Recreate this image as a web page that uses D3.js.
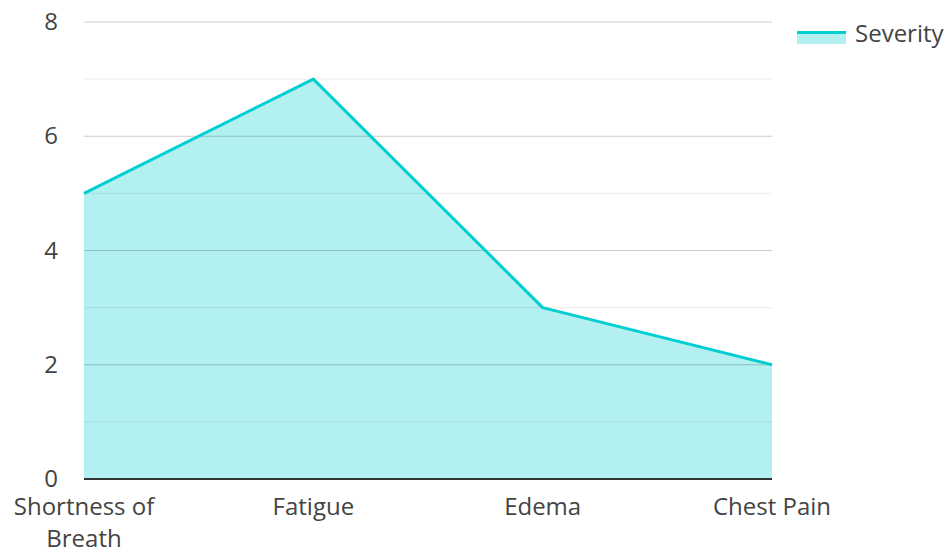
<!DOCTYPE html>
<html>
<head>
<meta charset="utf-8">
<script src="https://cdn.jsdelivr.net/npm/d3@7"></script>
<style>
body { margin: 0; background: #fff; }
text { font-family: "Open Sans", "Noto Sans", sans-serif; fill: #444; }
</style>
</head>
<body>
<div id="chart"></div>
<script>
// symptom severity data
var symptoms = ["Shortness of Breath", "Fatigue", "Edema", "Chest Pain"];
var severity = [5, 7, 3, 2];
var yTicks = [0, 2, 4, 6, 8];
var seriesName = "Severity";

var W = 948, H = 549;
var margin = {left: 84, right: 176, top: 22, bottom: 70};
var color = "#00CED1";
var fs = "24px";

var svg = d3.select("#chart").append("svg")
	.attr("width", W)
	.attr("height", H);

var x = d3.scalePoint()
	.domain(symptoms)
	.range([margin.left, W - margin.right]);
var y = d3.scaleLinear()
	.domain([0, 8])
	.range([H - margin.bottom, margin.top]);

var data = symptoms.map((s, i) => ({name: s, v: severity[i]}));

svg.append("path")
	.datum(data)
	.attr("fill", color).attr("fill-opacity", 0.3)
	.attr("d", d3.area().x(d => x(d.name)).y0(y(0)).y1(d => y(d.v)));

//grid lines on top of the fill, minor first
var minor = d3.range(1, 8, 2);
svg.selectAll("line.minor").data(minor).enter().append("line")
	.attr("x1", margin.left).attr("x2", W - margin.right)
	.attr("y1", d => y(d)).attr("y2", d => y(d))
	.attr("stroke", "#000").attr("stroke-opacity", 0.08).attr("stroke-width", 1);
svg.selectAll("line.major").data(yTicks.filter(d => d > 0)).enter().append("line")
	.attr("x1", margin.left).attr("x2", W - margin.right)
	.attr("y1", d => y(d)).attr("y2", d => y(d))
	.attr("stroke", "#000").attr("stroke-opacity", 0.2).attr("stroke-width", 1);

svg.append("path")
	.datum(data)
	.attr("fill", "none").attr("stroke", color).attr("stroke-width", 3)
	.attr("stroke-linejoin", "round")
	.attr("d", d3.line().x(d => x(d.name)).y(d => y(d.v)));

//axis base line
svg.append("line")
	.attr("x1", margin.left).attr("x2", W - margin.right)
	.attr("y1", y(0)).attr("y2", y(0))
	.attr("stroke", "#333").attr("stroke-width", 2);

//y labels
svg.selectAll("text.ylab").data(yTicks).enter().append("text")
	.attr("x", 58).attr("y", d => y(d) + 8)
	.attr("text-anchor", "end")
	.style("font-size", fs)
	.text(d => d);

//x labels, wrap long ones
var maxW = 160;
svg.selectAll("text.xlab").data(symptoms).enter().append("text")
	.attr("text-anchor", "middle")
	.style("font-size", fs)
	.each(function(d){
		var t = d3.select(this);
		var words = d.split(" ");
		var lines = [], cur = [];
		words.forEach(function(w){
			cur.push(w);
			t.text(cur.join(" "));
			if(this.getComputedTextLength() > maxW && cur.length > 1){
				cur.pop();
				lines.push(cur.join(" "));
				cur = [w];
			}
		}, this);
		lines.push(cur.join(" "));
		t.text(null);
		lines.forEach(function(l, i){
			t.append("tspan").attr("x", x(d)).attr("y", 515 + i * 32).text(l);
		});
	});

//legend
var lg = svg.append("g").attr("transform", "translate(797,31)");
lg.append("rect").attr("width", 49).attr("height", 13)
	.attr("fill", color).attr("fill-opacity", 0.3);
lg.append("rect").attr("width", 49).attr("height", 3).attr("fill", color);
lg.append("text").attr("x", 58).attr("y", 11)
	.style("font-size", fs)
	.text(seriesName);
</script>
</body>
</html>
